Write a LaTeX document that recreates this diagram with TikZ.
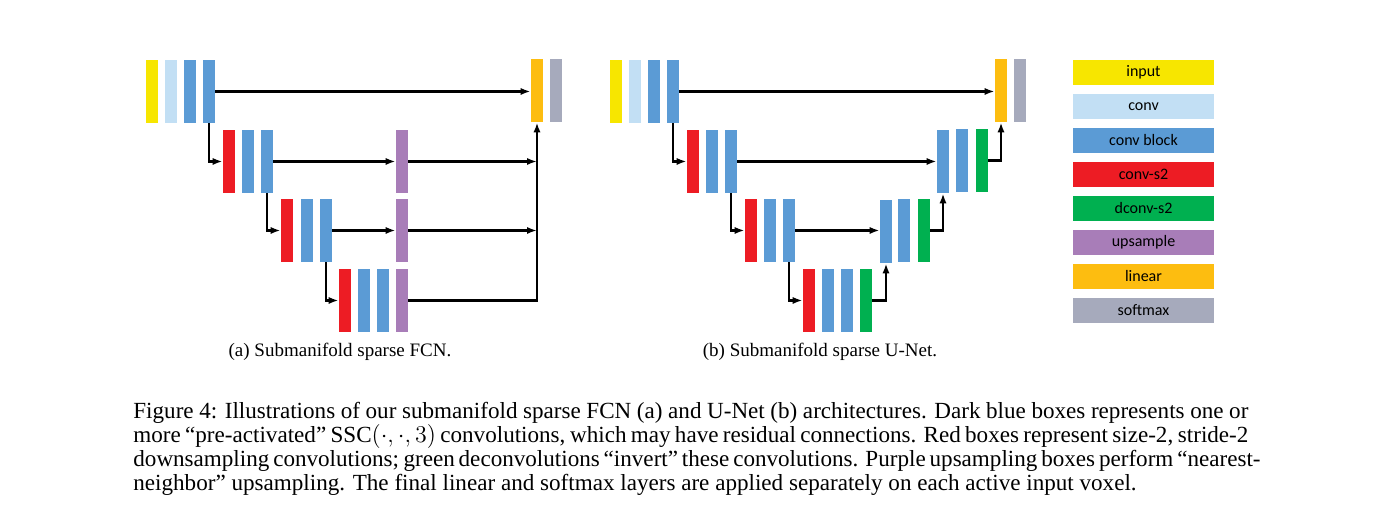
\documentclass[tikz,border=0pt]{standalone}
\usepackage{fontspec}
\setmainfont{Liberation Serif}
\newfontfamily\legfont{Carlito}
\usetikzlibrary{arrows.meta}
\definecolor{cyel}{HTML}{F7E600}
\definecolor{clb}{HTML}{C2DFF4}
\definecolor{cbl}{HTML}{5B9BD5}
\definecolor{cred}{HTML}{ED1C24}
\definecolor{cgrn}{HTML}{00B050}
\definecolor{cpur}{HTML}{A87DB8}
\definecolor{corg}{HTML}{FDBD10}
\definecolor{cgry}{HTML}{A6AABC}
\tikzset{
  blk/.style={fill=#1, draw=none, inner sep=0pt, minimum width=6pt, minimum height=31.5pt},
  leg/.style={fill=#1, draw=none, inner sep=0pt, minimum width=70.5pt, minimum height=12.5pt, font=\legfont\fontsize{8}{9}\selectfont},
  arr/.style={-{Latex[length=5pt,width=3.6pt]}, line width=1.1pt},
  capl/.style={anchor=west, inner sep=0pt, font=\fontsize{11.55}{13}\selectfont},
}
\newcommand{\bx}[4]{\node[blk=#2] (#1) at ({#3+6},{#4+31.5}) {};}
\begin{document}
\begin{tikzpicture}[x=0.5pt,y=-0.5pt]
\useasboundingbox (0,0) rectangle (1389,528);
% ---- (a) FCN
\bx{ai}{cyel}{146}{60}
\bx{ac}{clb}{165}{60}
\bx{ab1}{cbl}{184}{60}
\bx{ab2}{cbl}{203}{60}
\bx{alin}{corg}{531}{59}
\bx{asm}{cgry}{550}{59}
\bx{ar2}{cred}{223}{130}
\bx{ab21}{cbl}{242}{130}
\bx{ab22}{cbl}{261}{130}
\bx{ap2}{cpur}{396}{130}
\bx{ar3}{cred}{281}{199}
\bx{ab31}{cbl}{301}{199}
\bx{ab32}{cbl}{320}{199}
\bx{ap3}{cpur}{396}{199}
\bx{ar4}{cred}{339}{269}
\bx{ab41}{cbl}{358}{269}
\bx{ab42}{cbl}{377}{269}
\bx{ap4}{cpur}{396}{269}
\draw[arr] (ab2.east) -- (alin.west |- ab2.east);
\draw[arr] (ab2.south) |- (ar2.west);
\draw[arr] (ab22.south) |- (ar3.west);
\draw[arr] (ab32.south) |- (ar4.west);
\draw[arr] (ab22.east) -- (ap2.west);
\draw[arr] (ab32.east) -- (ap3.west);
\draw[arr] (ap2.east) -- (ap2.east -| alin.south);
\draw[arr] (ap3.east) -- (ap3.east -| alin.south);
\draw[arr] (ap4.east) -| (alin.south);
\node[font=\fontsize{9.5}{11}\selectfont] (capa) at (340,352) {(a) Submanifold sparse FCN.};
% ---- (b) U-Net
\bx{bi}{cyel}{610}{60}
\bx{bc}{clb}{629}{60}
\bx{bb1}{cbl}{648}{60}
\bx{bb2}{cbl}{667}{60}
\bx{blin}{corg}{995}{59}
\bx{bsm}{cgry}{1014}{59}
\bx{br2}{cred}{687}{130}
\bx{bb21}{cbl}{706}{130}
\bx{bb22}{cbl}{725}{130}
\bx{bu21}{cbl}{937}{130}
\bx{bu22}{cbl}{956}{129}
\bx{bg2}{cgrn}{976}{129}
\bx{br3}{cred}{745}{199}
\bx{bb31}{cbl}{764}{199}
\bx{bb32}{cbl}{783}{199}
\bx{bu31}{cbl}{880}{200}
\bx{bu32}{cbl}{898}{199}
\bx{bg3}{cgrn}{918}{199}
\bx{br4}{cred}{803}{269}
\bx{bb41}{cbl}{822}{269}
\bx{bb42}{cbl}{841}{269}
\bx{bg4}{cgrn}{860}{269}
\draw[arr] (bb2.east) -- (blin.west |- bb2.east);
\draw[arr] (bb2.south) |- (br2.west);
\draw[arr] (bb22.south) |- (br3.west);
\draw[arr] (bb32.south) |- (br4.west);
\draw[arr] (bb22.east) -- (bu21.west |- bb22.east);
\draw[arr] (bb32.east) -- (bu31.west |- bb32.east);
\draw[arr] (bg2.east) -| (blin.south);
\draw[arr] (bg3.east) -| (bu21.south);
\draw[arr] (bg4.east) -| (bu31.south);
\node[font=\fontsize{9.5}{11}\selectfont] (capb) at (820,352) {(b) Submanifold sparse U-Net.};
% ---- legend
\node[leg=cyel] (l1) at (1143.5,72.5) {input};
\node[leg=clb] (l2) at (1143.5,106.5) {conv};
\node[leg=cbl] (l3) at (1143.5,140.5) {conv block};
\node[leg=cred] (l4) at (1143.5,174.5) {conv-s2};
\node[leg=cgrn] (l5) at (1143.5,208.5) {dconv-s2};
\node[leg=cpur] (l6) at (1143.5,242.5) {upsample};
\node[leg=corg] (l7) at (1143.5,276.5) {linear};
\node[leg=cgry] (l8) at (1143.5,310.5) {softmax};
% ---- caption
\node[capl] (c1) at (133,413) {\makebox[557.5pt][s]{Figure 4: Illustrations of our submanifold sparse FCN (a) and U-Net (b) architectures. Dark blue boxes represents one or}};
\node[capl] (c2) at (133,437) {\makebox[557.5pt][s]{more ``pre-activated'' $\mathrm{SSC}(\cdot,\cdot,3)$ convolutions, which may have residual connections. Red boxes represent size-2, stride-2}};
\node[capl] (c3) at (133,461) {\makebox[557.5pt][s]{downsampling convolutions; green deconvolutions ``invert'' these convolutions. Purple upsampling boxes perform ``nearest-}};
\node[capl] (c4) at (133,485) {neighbor'' upsampling. The final linear and softmax layers are applied separately on each active input voxel.};
\end{tikzpicture}
\end{document}
